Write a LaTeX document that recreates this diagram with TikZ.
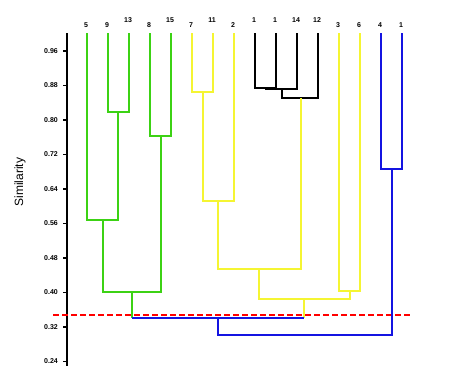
\documentclass[tikz,border=0pt]{standalone}
\usepackage{fontspec}
\setmainfont{Liberation Sans}
\begin{document}
\begin{tikzpicture}[x=1pt,y=-1pt,
  tree/.style={line width=2pt,line join=miter,line cap=butt},
  gcol/.style={tree,draw={rgb,255:red,60;green,210;blue,20}},
  ycol/.style={tree,draw={rgb,255:red,245;green,245;blue,50}},
  kcol/.style={tree,draw=black},
  bcol/.style={tree,draw={rgb,255:red,20;green,20;blue,225}},
  leaflab/.style={font=\fontsize{7}{8}\selectfont\bfseries,inner sep=0pt,anchor=south},
  ticklab/.style={font=\fontsize{7}{8}\selectfont\bfseries,inner sep=0pt,anchor=east},
  cut/.style={draw=red,line width=1.1pt,dash pattern=on 6pt off 3pt}]
\useasboundingbox (0,0) rectangle (474,386);
% axis
\coordinate (axtop) at (67,33);
\coordinate (axbot) at (67,366);
\draw[line width=1.3pt] (axtop) -- (axbot);
\foreach \v/\n in {0.96/a,0.88/b,0.80/c,0.72/d,0.64/e,0.56/f,0.48/g,0.40/h,0.32/i,0.24/j}{
  \pgfmathsetmacro{\yy}{51+(0.96-\v)*431.25}
  \coordinate (tk\n) at (67,\yy);
  \draw[line width=1.1pt] (tk\n) -- ++(-4,0);
  \node[ticklab] (tl\n) at (58,\yy) {\v};
}
\node[rotate=90,font=\fontsize{12}{14}\selectfont] (ylab) at (20,182) {Similarity};
% leaves
\foreach \i/\t/\h in {0/5/0,1/9/0,2/13/1,3/8/0,4/15/1,5/7/0,6/11/1,7/2/0,8/1/1,9/1/1,10/14/1,11/12/1,12/3/0,13/6/0,14/4/0,15/1/0}{
  \pgfmathsetmacro{\xx}{87+21*\i}
  \pgfmathsetmacro{\ly}{27.5-5*\h}
  \coordinate (L\i) at (\xx,33);
  \node[leaflab] (t\i) at (\xx-1,\ly) {\t};
}
% merge points
\coordinate (g1) at (118,112);
\coordinate (g2) at (102.5,220);
\coordinate (g3) at (160.5,136);
\coordinate (g4) at (132,292);
\coordinate (y1) at (202.5,92);
\coordinate (y2) at (218,201);
\coordinate (k1) at (265.5,87.5);
\coordinate (k2) at (282,89);
\coordinate (k3) at (300.5,97.5);
\coordinate (y3) at (259,269);
\coordinate (y4) at (349.5,291);
\coordinate (y5) at (304,299);
\coordinate (b1) at (392,169);
\coordinate (b2) at (218,318);
\coordinate (b3) at (305.5,335);
% green cluster
\draw[gcol] (L1) |- (g1) -| (L2);
\draw[gcol] (L0) |- (g2) -| (g1);
\draw[gcol] (L3) |- (g3) -| (L4);
\draw[gcol] (g2) |- (g4) -| (g3);
\draw[gcol] (g4) -- (g4 |- b2);
% yellow / black cluster
\draw[ycol] (L5) |- (y1) -| (L6);
\draw[ycol] (y1) |- (y2) -| (L7);
\draw[kcol] (L8) |- (k1) -| (L9);
\draw[kcol] (k1) |- (k2) -| (L10);
\draw[kcol] (k2) |- (k3) -| (L11);
\draw[ycol] (y2) |- (y3) -| (k3);
\draw[ycol] (L12) |- (y4) -| (L13);
\draw[ycol] (y3) |- (y5) -| (y4);
\draw[ycol] (y5) -- (y5 |- b2);
% cut line
\coordinate (cutL) at (53,315);
\coordinate (cutR) at (410,315);
\draw[cut] (cutL) -- (cutR);
% blue cluster
\draw[bcol] (L14) |- (b1) -| (L15);
\draw[bcol] (g4 |- b2) -- (y5 |- b2);
\draw[bcol] (b2) |- (b3) -| (b1);
\end{tikzpicture}
\end{document}
